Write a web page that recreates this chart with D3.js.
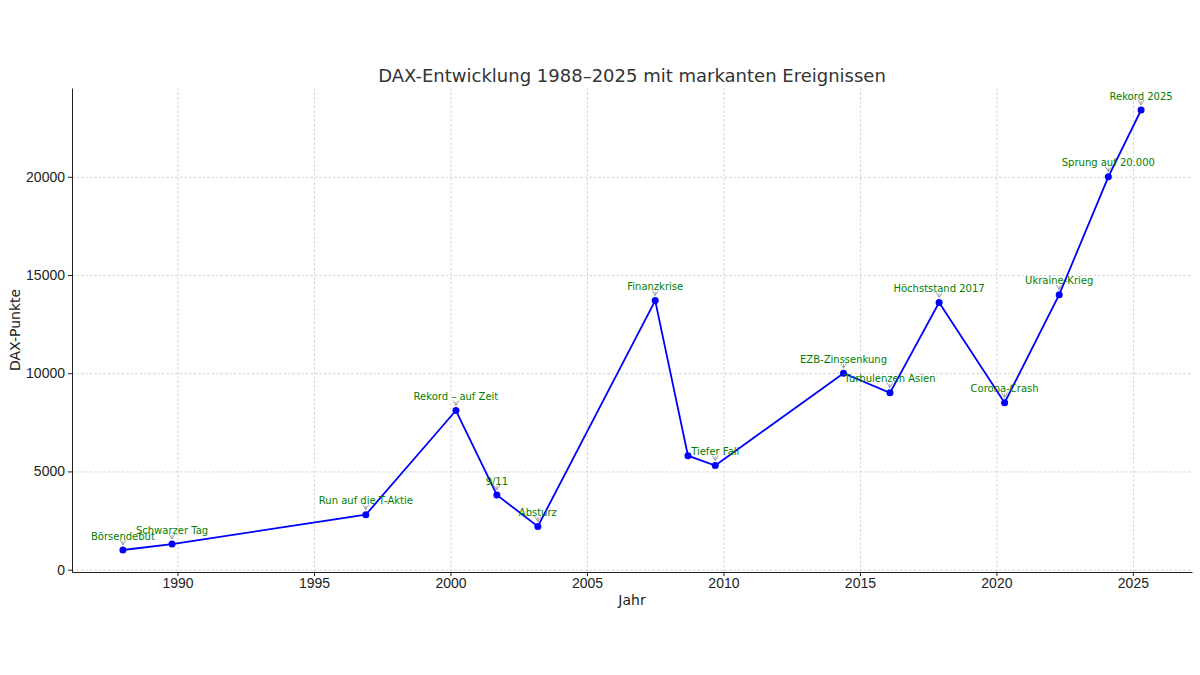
<!DOCTYPE html>
<html>
<head>
<meta charset="utf-8">
<script src="https://cdn.jsdelivr.net/npm/d3@7"></script>
<style>
  body { margin: 0; background: #fff; }
  svg { font-family: "DejaVu Sans", sans-serif; }
  .grid line { stroke: #c8c8c8; stroke-width: 0.8; stroke-dasharray: 2.5,2; }
  .grid path { display: none; }
  .axis path, .axis line { stroke: #222; }
  .axis text { font-size: 14px; fill: #222; }
</style>
</head>
<body>
<script>
// Data
const years = [1988.0, 1989.8, 1996.9, 2000.2, 2001.7, 2003.2, 2007.5, 2008.7, 2009.7,
               2014.4, 2016.1, 2017.9, 2020.3, 2022.3, 2024.1, 2025.3];
const points = [1000, 1300, 2800, 8100, 3800, 2200, 13700, 5800, 5300,
                10000, 9000, 13600, 8500, 14000, 20000, 23400];
const events = ['Börsendebüt', 'Schwarzer Tag', 'Run auf die T-Aktie', 'Rekord – auf Zeit', '9/11',
                'Absturz', 'Finanzkrise', '', 'Tiefer Fall', 'EZB-Zinssenkung', 'Turbulenzen Asien',
                'Höchststand 2017', 'Corona-Crash', 'Ukraine-Krieg', 'Sprung auf 20.000', 'Rekord 2025'];
const xTicks = [1990, 1995, 2000, 2005, 2010, 2015, 2020, 2025];
const yTicks = [0, 5000, 10000, 15000, 20000];

const svgWidth = 1200;
const svgHeight = 675;
const margin = {top: 88, right: 8, bottom: 103, left: 72};
const width = svgWidth - margin.left - margin.right;
const height = svgHeight - margin.top - margin.bottom;

const data = years.map((y, i) => ({year: y, value: points[i], label: events[i]}));

// matplotlib-style 5% padding around the data
const pad = (ext) => {
    const d = (ext[1] - ext[0]) * 0.05;
    return [ext[0] - d, ext[1] + d];
};
const x = d3.scaleLinear().domain(pad(d3.extent(years))).range([0, width]);
const y = d3.scaleLinear().domain(pad(d3.extent(points))).range([height, 0]);

const svg = d3.select('body').append('svg')
    .attr('width', svgWidth)
    .attr('height', svgHeight);

const g = svg.append('g')
    .attr('transform', 'translate(' + margin.left + ',' + margin.top + ')');

// Grid lines
g.append('g')
    .attr('class', 'grid')
    .attr('transform', 'translate(0,' + height + ')')
    .call(d3.axisBottom(x).tickValues(xTicks).tickSize(-height).tickFormat(''));
g.append('g')
    .attr('class', 'grid')
    .call(d3.axisLeft(y).tickValues(yTicks).tickSize(-width).tickFormat(''));

// Axes (left and bottom spines only)
g.append('g')
    .attr('class', 'axis')
    .attr('transform', 'translate(0,' + height + ')')
    .call(d3.axisBottom(x).tickValues(xTicks).tickSizeOuter(0).tickSizeInner(4).tickPadding(2).tickFormat(d3.format('d')));
g.append('g')
    .attr('class', 'axis')
    .call(d3.axisLeft(y).tickValues(yTicks).tickSizeOuter(0).tickSizeInner(4).tickPadding(3).tickFormat(d3.format('d')));

// Line
const line = d3.line()
    .x(d => x(d.year))
    .y(d => y(d.value));

g.append('path')
    .datum(data)
    .attr('fill', 'none')
    .attr('stroke', '#0000ff')
    .attr('stroke-width', 1.8)
    .attr('d', line);

g.selectAll('circle.datum')
    .data(data)
    .enter()
    .append('circle')
        .attr('class', 'datum')
        .attr('r', 3.5)
        .attr('fill', '#0000ff')
        .attr('cx', d => x(d.year))
        .attr('cy', d => y(d.value));

// Annotations with small arrows
const labeled = data.filter(d => d.label);

g.selectAll('path.arrow')
    .data(labeled)
    .enter()
    .append('path')
        .attr('class', 'arrow')
        .attr('fill', 'none')
        .attr('stroke', '#999')
        .attr('stroke-width', 0.9)
        .attr('d', d => {
            const px = x(d.year), py = y(d.value);
            return 'M' + (px - 3) + ',' + (py - 10) + 'L' + px + ',' + (py - 5) + 'L' + (px + 3) + ',' + (py - 10)
                + 'M' + px + ',' + (py - 5) + 'L' + px + ',' + (py - 9);
        });

g.selectAll('text.event')
    .data(labeled)
    .enter()
    .append('text')
        .attr('class', 'event')
        .attr('x', d => x(d.year))
        .attr('y', d => y(d.value) - 10.5)
        .attr('text-anchor', 'middle')
        .attr('fill', '#008000')
        .style('font-size', '10px')
        .text(d => d.label);

// Title and axis labels
svg.append('text')
    .attr('x', margin.left + width / 2)
    .attr('y', 82)
    .attr('text-anchor', 'middle')
    .attr('fill', '#333')
    .style('font-size', '18px')
    .text('DAX-Entwicklung 1988–2025 mit markanten Ereignissen');

svg.append('text')
    .attr('x', margin.left + width / 2)
    .attr('y', 605)
    .attr('text-anchor', 'middle')
    .attr('fill', '#222')
    .style('font-size', '14px')
    .text('Jahr');

svg.append('text')
    .attr('transform', 'translate(20,' + (margin.top + height / 2) + ') rotate(-90)')
    .attr('text-anchor', 'middle')
    .attr('fill', '#222')
    .style('font-size', '14px')
    .text('DAX-Punkte');
</script>
</body>
</html>
